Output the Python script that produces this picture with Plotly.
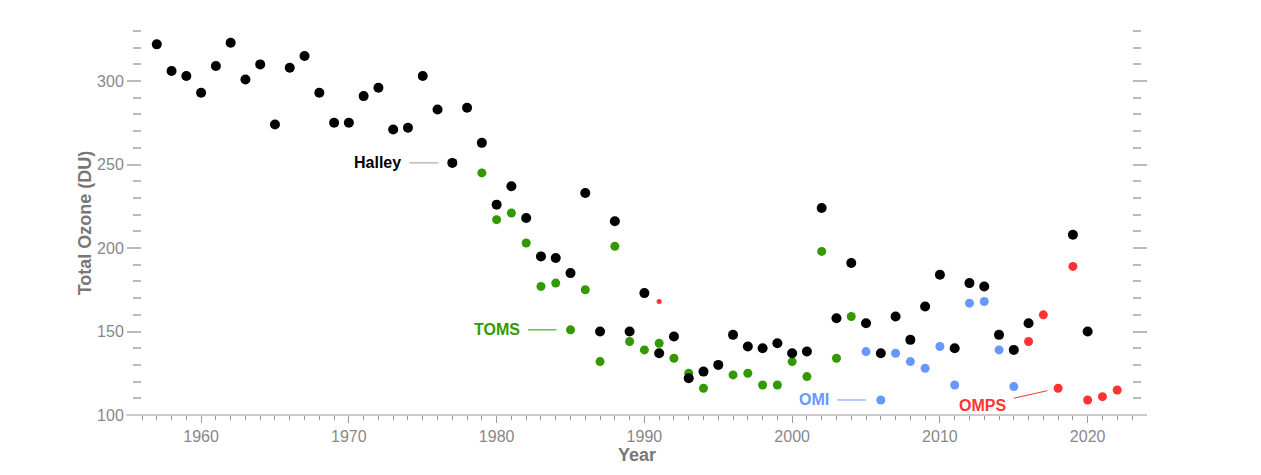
import plotly.graph_objects as go

# Halley station ground measurements, 1957-2020 (missing years skipped)
halley_years = list(range(1957, 2017)) + [2019, 2020]
halley_ozone = [322, 306, 303, 293, 309, 323, 301, 310, 274, 308,
                315, 293, 275, 275, 291, 296, 271, 272, 303, 283,
                251, 284, 263, 226, 237, 218, 195, 194, 185, 233,
                150, 216, 150, 173, 137, 147, 122, 126, 130, 148,
                141, 140, 143, 137, 138, 224, 158, 191, 155, 137,
                159, 145, 165, 184, 140, 179, 177, 148, 139, 155,
                208, 150]

toms_years = [1979, 1980, 1981, 1982, 1983, 1984, 1985, 1986, 1987, 1988,
              1989, 1990, 1991, 1992, 1993, 1994, 1996, 1997, 1998, 1999,
              2000, 2001, 2002, 2003, 2004]
toms_ozone = [245, 217, 221, 203, 177, 179, 151, 175, 132, 201,
              144, 139, 143, 134, 125, 116, 124, 125, 118, 118,
              132, 123, 198, 134, 159]

omi_years = [2005, 2006, 2007, 2008, 2009, 2010, 2011, 2012, 2013, 2014, 2015]
omi_ozone = [138, 109, 137, 132, 128, 141, 118, 167, 168, 139, 117]

omps_years = [2016, 2017, 2018, 2019, 2020, 2021, 2022]
omps_ozone = [144, 160, 116, 189, 109, 111, 115]

# small stray red point in the source chart
stray_years = [1991]
stray_ozone = [168]

BLACK = "#000000"
GREEN = "#339900"
BLUE = "#6699ff"
RED = "#ff3333"
GRAY = "#888888"

fig = go.Figure()

fig.add_trace(go.Scatter(x=toms_years, y=toms_ozone, mode="markers", name="TOMS",
                         marker=dict(color=GREEN, size=9)))
fig.add_trace(go.Scatter(x=omi_years, y=omi_ozone, mode="markers", name="OMI",
                         marker=dict(color=BLUE, size=9)))
fig.add_trace(go.Scatter(x=omps_years, y=omps_ozone, mode="markers", name="OMPS",
                         marker=dict(color=RED, size=9)))
fig.add_trace(go.Scatter(x=halley_years, y=halley_ozone, mode="markers", name="Halley",
                         marker=dict(color=BLACK, size=10)))
fig.add_trace(go.Scatter(x=stray_years, y=stray_ozone, mode="markers", showlegend=False,
                         marker=dict(color=RED, size=5)))

# series labels with a short leader line to one point of each series
labels = [
    ("Halley", halley_years[20], halley_ozone[20], BLACK, "#999999", -75, 0, 14),
    ("TOMS", toms_years[6], toms_ozone[6], GREEN, GREEN, -74, 0, 14),
    ("OMI", omi_years[1], omi_ozone[1], BLUE, BLUE, -67, 0, 15),
    ("OMPS", omps_years[2], omps_ozone[2], RED, RED, -76, 17, 11),
]
for text, x, y, tcolor, lcolor, ax, ay, standoff in labels:
    fig.add_annotation(x=x, y=y, text="<b>" + text + "</b>", showarrow=True,
                       ax=ax, ay=ay, arrowhead=0, arrowwidth=1, arrowcolor=lcolor,
                       standoff=standoff, startstandoff=7,
                       font=dict(color=tcolor, size=16))

# x axis baseline runs a little past the plot area on both sides
fig.add_shape(type="line", xref="paper", yref="paper", x0=-0.016, x1=1.015, y0=0, y1=0,
              line=dict(color="#cccccc", width=2))

fig.update_layout(
    width=1261, height=475,
    margin=dict(l=134, r=137, t=23, b=68),
    plot_bgcolor="white", paper_bgcolor="white",
    showlegend=False,
    font=dict(family="Liberation Sans, Arial, sans-serif", color=GRAY, size=16),
)
fig.update_xaxes(
    range=[1956, 2023], showgrid=False, zeroline=False, showline=False,
    tick0=1960, dtick=10, ticks="outside", ticklen=7, tickcolor="#999999", tickwidth=1,
    minor=dict(dtick=1, ticks="outside", ticklen=4, tickcolor="#999999"),
    title=dict(text="<b>Year</b>", font=dict(size=18, color="#777777"), standoff=4),
)
fig.update_yaxes(
    range=[100, 330], showgrid=False, zeroline=False, showline=False,
    tick0=100, dtick=50, ticks="outside", ticklen=14, tickcolor="#bbbbbb", tickwidth=2,
    mirror="ticks",
    minor=dict(dtick=10, ticks="outside", ticklen=8, tickcolor="#bbbbbb", tickwidth=2),
    title=dict(text="<b>Total Ozone (DU)</b>", font=dict(size=18, color="#777777"), standoff=0),
)

fig.write_html("out.html")
